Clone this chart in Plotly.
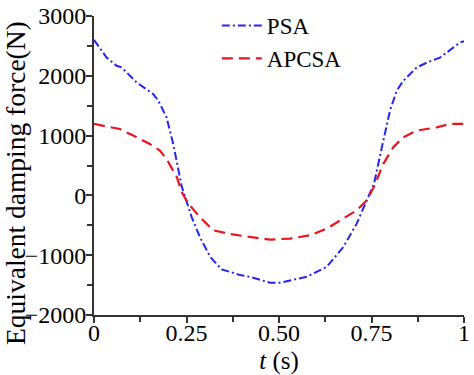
import plotly.graph_objects as go

t_psa = [0, 0.034, 0.061, 0.075, 0.115, 0.16, 0.174, 0.196, 0.214, 0.237, 0.264, 0.286, 0.314,
         0.345, 0.368, 0.395, 0.42, 0.476, 0.503, 0.575, 0.629, 0.674, 0.71, 0.737, 0.757,
         0.778, 0.8, 0.818, 0.836, 0.872, 0.9, 0.935, 0.989, 1.0]
f_psa = [2600, 2305, 2167, 2140, 1890, 1695, 1583, 1305, 865, 150, -362, -695, -1028,
         -1238, -1280, -1333, -1360, -1460, -1460, -1360, -1195, -862, -472, -83, 200,
         805, 1417, 1750, 1917, 2138, 2222, 2305, 2555, 2580]

t_apc = [0, 0.034, 0.07, 0.106, 0.151, 0.178, 0.196, 0.224, 0.237, 0.255, 0.286, 0.322, 0.368,
         0.42, 0.476, 0.53, 0.584, 0.629, 0.674, 0.71, 0.737, 0.757, 0.782, 0.809, 0.836,
         0.872, 0.926, 0.962, 1.0]
f_apc = [1195, 1150, 1110, 1000, 860, 750, 610, 305, 55, -138, -362, -583, -645,
         -695, -738, -722, -667, -555, -388, -250, -83, 150, 528, 805, 972,
         1083, 1138, 1195, 1195]

x_ticks = [0, 0.25, 0.5, 0.75, 1]
x_labels = ["0", "0.25", "0.50", "0.75", "1"]
y_ticks = [-2000, -1000, 0, 1000, 2000, 3000]
y_labels = ["\u22122000", "\u22121000", "0", "1000", "2000", "3000"]
y_title = "Equivalent damping force(N)"

FONT = "Liberation Serif, Times New Roman, serif"

fig = go.Figure()
fig.add_trace(go.Scatter(x=t_psa, y=f_psa, mode="lines", name="PSA",
                         line=dict(color="#2424f0", width=2, dash="8px,3px,2px,3px")))
fig.add_trace(go.Scatter(x=t_apc, y=f_apc, mode="lines", name="APCSA",
                         line=dict(color="#e8141e", width=2.2, dash="11px,6px")))

axis_common = dict(showline=True, linecolor="#333333", linewidth=2, ticks="outside",
                   ticklen=6, tickwidth=1.5, tickcolor="#333333", showgrid=False,
                   zeroline=False, tickfont=dict(family=FONT, size=24, color="black"),
                   mirror=False, automargin=False)

fig.update_xaxes(range=[0, 1], tickmode="array", tickvals=x_ticks, ticktext=x_labels,
                 ticklabelstandoff=-11,
                 minor=dict(tickvals=[0.125, 0.375, 0.625, 0.875], ticks="outside",
                            ticklen=5, tickcolor="#333333", tickwidth=1.5),
                 title=dict(text="<i>t</i> (s)", font=dict(family=FONT, size=25, color="black"),
                            standoff=10),
                 **axis_common)
fig.update_yaxes(range=[-2000, 3000], tickmode="array", tickvals=y_ticks, ticktext=y_labels,
                 ticklabelstandoff=-5,
                 minor=dict(tickvals=[-1500, -500, 500, 1500, 2500], ticks="outside",
                            ticklen=5, tickcolor="#333333", tickwidth=1.5),
                 **axis_common)

fig.add_annotation(text=y_title, xref="paper", yref="paper", x=-0.212, y=0.44,
                   xanchor="center", yanchor="middle", textangle=-90, showarrow=False,
                   font=dict(family=FONT, size=27.5, color="black"))

fig.update_layout(
    width=474, height=375,
    margin=dict(l=94, r=10, t=16, b=60, autoexpand=False),
    plot_bgcolor="white", paper_bgcolor="white",
    font=dict(family=FONT, size=23, color="black"),
    legend=dict(x=0.332, y=1.04, xanchor="left", yanchor="top",
                bgcolor="rgba(0,0,0,0)", font=dict(family=FONT, size=23),
                itemwidth=40, tracegroupgap=0),
    showlegend=True,
)

fig.write_html("out.html", config={"displayModeBar": False},
               post_script="document.body.style.margin='0';")
